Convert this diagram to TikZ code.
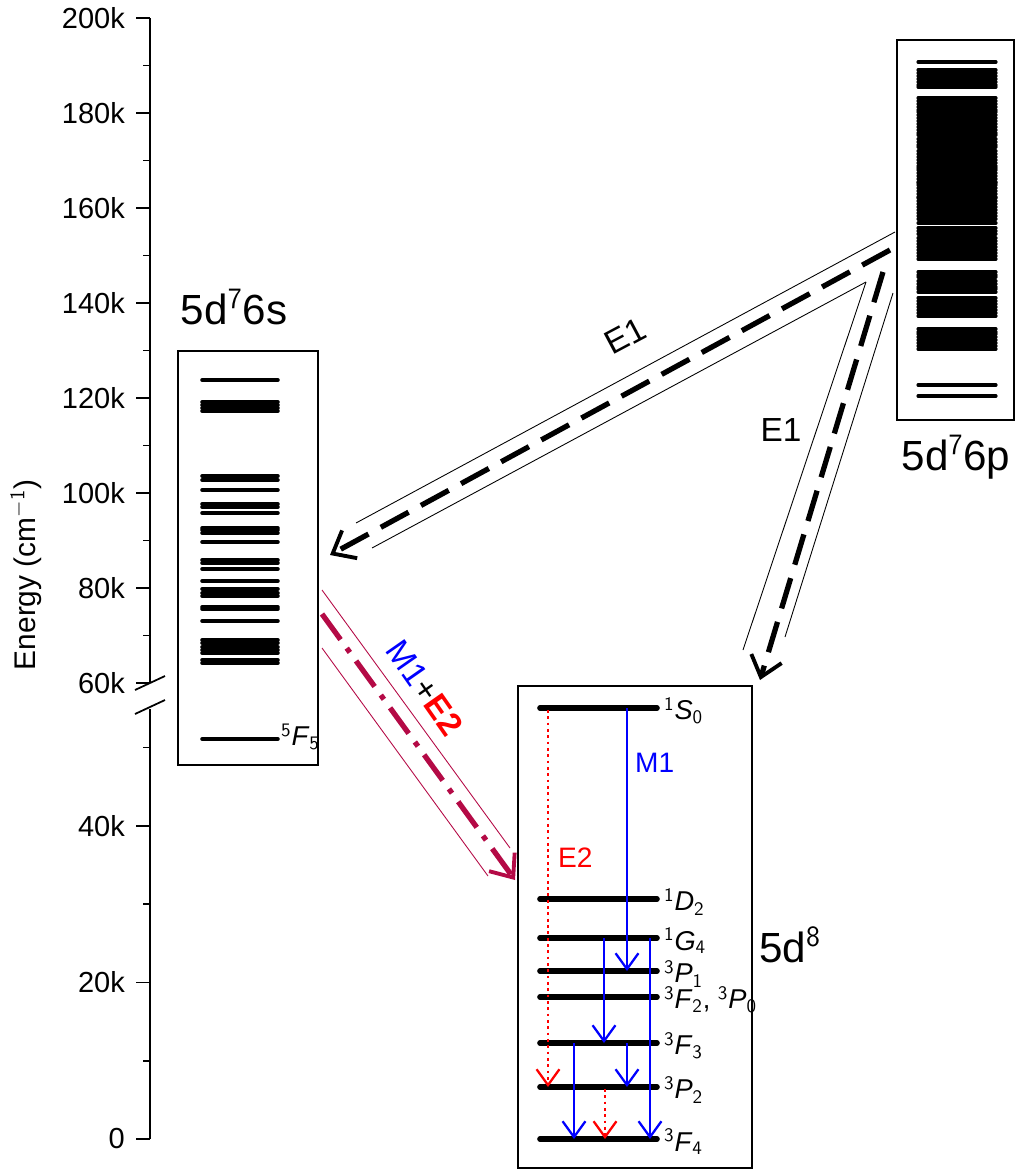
\documentclass[tikz,border=0pt]{standalone}
\usepackage{fontspec}
\setmainfont{Liberation Sans}
\usetikzlibrary{arrows.meta}
\tikzset{
 lvl/.style={line width=2pt,line cap=round},
 plvl/.style={line width=1.8pt,line cap=round},
 blvl/.style={line width=3.2pt,line cap=round},
 tip/.style={-{Straight Barb[length=9pt,width=13pt,line width=1.3pt]}},
 btr/.style={blue,line width=1.3pt,tip},
 rtr/.style={red,line width=1.6pt,dotted,tip},
 thinl/.style={line width=0.5pt},
 tick/.style={font=\fontsize{16.5}{16.5}\selectfont,anchor=east},
 lab/.style={font=\fontsize{15.5}{15.5}\selectfont,anchor=west,inner sep=1pt},
 big/.style={font=\fontsize{24}{24}\selectfont},
 bigarrow/.style={line width=3pt,dash pattern=on 18pt off 8pt,-{Straight Barb[length=11pt,width=18pt,line width=2.2pt]}}
}
\begin{document}
\begin{tikzpicture}[x=0.02cm,y=-0.02cm]
\useasboundingbox (0,0) rectangle (1020,1173);
% axis
\draw[line width=1pt] (150,18) -- (150,683);
\draw[line width=1pt] (150,709) -- (150,1139);
\draw[line width=1pt] (135,690) -- (165,676);
\draw[line width=1pt] (135,714) -- (165,700);
\foreach \e in {60,70,...,200}{\pgfmathsetmacro\yy{683-4.75*(\e-60)}\draw[line width=1pt] (143,\yy) -- (150,\yy);}
\foreach \e in {60,80,...,200}{\pgfmathsetmacro\yy{683-4.75*(\e-60)}\draw[line width=1pt] (136,\yy) -- (150,\yy); \node[tick] (t\e) at (131,\yy) {\e k};}
\foreach \e in {0,10,...,50}{\pgfmathsetmacro\yy{1139-7.83*\e}\draw[line width=1pt] (143,\yy) -- (150,\yy);}
\foreach \e/\t in {20/20k,40/40k}{\pgfmathsetmacro\yy{1139-7.83*\e}\draw[line width=1pt] (136,\yy) -- (150,\yy); \node[tick] (t\e) at (131,\yy) {\t};}
\draw[line width=1pt] (136,1139) -- (150,1139); \node[tick] (t0) at (131,1139) {0};
\node[rotate=90,font=\fontsize{17}{17}\selectfont] (ylab) at (26,575) {Energy (cm$^{\mathsf{-1}}$)};
% 5d76s box
\draw[line width=0.8pt] (178,351) rectangle (318,765);
\node[big] (l6s) at (234,307) {5d$^{\mathsf{7}}$6s};
\foreach \y in {380,402,405,408,411,476,480,490,504,507,513,528,530,533,542,560,563,569,581,589,593,596,607,609,621,640,643,647,650,653,660,663,739}{\draw[lvl] (202,\y) -- (278,\y);}
\node[lab] (f5) at (279,737) {$^{\mathsf{5}}$\textit{F}$_{\mathsf{5}}$};
% 5d76p box
\draw[line width=0.8pt] (897,40) rectangle (1014,420);
\node[big] (l6p) at (956,457) {5d$^{\mathsf{7}}$6p};
\foreach \y in {62,70,73,...,85,87,98,101,...,110,112,115,118,...,133,135,139,142,145,147,151,154,...,166,168,170,173,...,182,183,185,188,...,197,198,201,...,221,223,228,231,234,238,241,...,256,259,272,275,277,281,284,287,289,292,298,301,...,311,313,316,329,332,334,337,340,...,349,385,396}{\draw[plvl] (918,\y) -- (996,\y);}
% 5d8 box
\draw[line width=0.8pt] (518,686) rectangle (752,1168);
\node[big] (l8) at (790,945) {5d$^{\mathsf{8}}$};
\foreach \n/\y/\t in {s0/708/{$^{\mathsf{1}}$\textit{S}$_{\mathsf{0}}$},d2/899/{$^{\mathsf{1}}$\textit{D}$_{\mathsf{2}}$},g4/938/{$^{\mathsf{1}}$\textit{G}$_{\mathsf{4}}$},p1/971/{$^{\mathsf{3}}$\textit{P}$_{\mathsf{1}}$},f2/997/{$^{\mathsf{3}}$\textit{F}$_{\mathsf{2}}$, $^{\mathsf{3}}$\textit{P}$_{\mathsf{0}}$},f3/1043/{$^{\mathsf{3}}$\textit{F}$_{\mathsf{3}}$},p2/1087/{$^{\mathsf{3}}$\textit{P}$_{\mathsf{2}}$},f4/1139/{$^{\mathsf{3}}$\textit{F}$_{\mathsf{4}}$}}{
 \draw[blvl] (540,\y) -- (657,\y);
 \node[lab] (L\n) at (662,\y+3) {\t};}
% transitions in 5d8
\coordinate (a1) at (548,710); \coordinate (a2) at (548,1087);
\draw[rtr] (a1) -- (a2);
\node[red,font=\fontsize{16}{16}\selectfont,anchor=west] (e2) at (552,858) {E2};
\coordinate (b1) at (627,708); \coordinate (b2) at (627,971);
\draw[btr] (b1) -- (b2);
\node[blue,font=\fontsize{16}{16}\selectfont,anchor=west] (m1) at (629,763) {M1};
\coordinate (c1) at (604,938); \coordinate (c2) at (604,1043); \draw[btr] (c1) -- (c2);
\coordinate (d1) at (650,938); \coordinate (d2) at (650,1139); \draw[btr] (d1) -- (d2);
\coordinate (e1) at (574,1043); \coordinate (e2p) at (574,1139); \draw[btr] (e1) -- (e2p);
\coordinate (f1) at (627,1043); \coordinate (f2p) at (627,1087); \draw[btr] (f1) -- (f2p);
\coordinate (g1) at (605,1089); \coordinate (g2) at (605,1139); \draw[rtr] (g1) -- (g2);
% big arrows
\coordinate (p1s) at (890,250); \coordinate (p1e) at (330,555);
\draw[bigarrow] (p1s) -- (p1e);
\coordinate (q1) at (895,232); \coordinate (q2) at (356,523);
\coordinate (q3) at (866,282); \coordinate (q4) at (372,548);
\draw[thinl] (q1) -- (q2); \draw[thinl] (q3) -- (q4);
\node[rotate=28,font=\fontsize{19}{19}\selectfont] (E1a) at (625,336) {E1};
\coordinate (p2s) at (883,272); \coordinate (p2e) at (760,680);
\draw[bigarrow] (p2s) -- (p2e);
\coordinate (r1) at (866,282); \coordinate (r2) at (743,650);
\coordinate (r3) at (893,293); \coordinate (r4) at (785,637);
\draw[thinl] (r1) -- (r2); \draw[thinl] (r3) -- (r4);
\node[font=\fontsize{19}{19}\selectfont] (E1b) at (781,430) {E1};
\definecolor{maroon}{RGB}{180,10,70}
\coordinate (p3s) at (322,614); \coordinate (p3e) at (515,880);
\draw[maroon,line width=3pt,dash pattern=on 18pt off 6pt on 3pt off 6pt,-{Straight Barb[length=11pt,width=18pt,line width=2.2pt]}] (p3s) -- (p3e);
\coordinate (s1) at (322,590); \coordinate (s2) at (510,848);
\coordinate (s3) at (322,648); \coordinate (s4) at (488,876);
\draw[maroon,thinl] (s1) -- (s2); \draw[maroon,thinl] (s3) -- (s4);
\node[rotate=-55,font=\fontsize{19}{19}\selectfont,inner sep=0pt] (me) at (425,688) {\textcolor{blue}{M1}+\textcolor{red}{\bfseries E2}};
\end{tikzpicture}
\end{document}
